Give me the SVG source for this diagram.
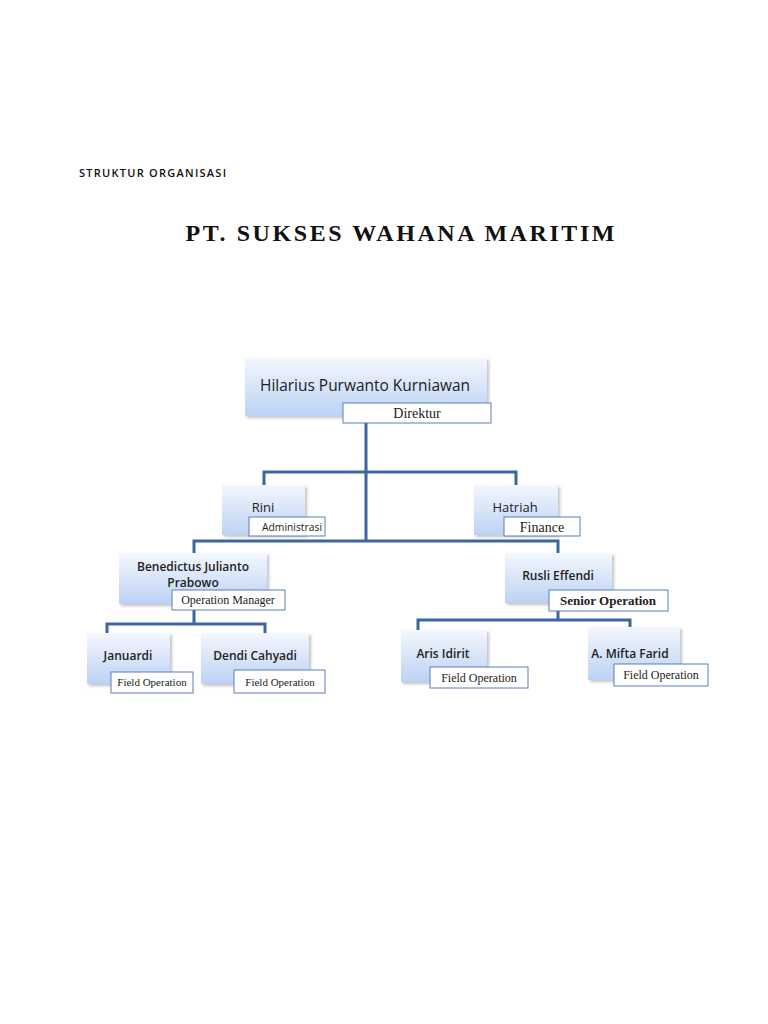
<svg xmlns="http://www.w3.org/2000/svg" width="768" height="1024" viewBox="0 0 768 1024">
<defs>
<linearGradient id="g" x1="0" y1="0" x2="0" y2="1"><stop offset="0" stop-color="#f4f7fd"/><stop offset="1" stop-color="#bcd2f4"/></linearGradient>
<filter id="sh" x="-10%" y="-10%" width="125%" height="130%"><feDropShadow dx="2" dy="2" stdDeviation="1.5" flood-color="#999" flood-opacity="0.6"/></filter>
</defs>
<style>
.n{fill:url(#g);filter:url(#sh)}
.l{fill:#fff;stroke:#5a7fb5;stroke-width:1}
.c{fill:none;stroke:#3c66a2;stroke-width:3}
.t{font-family:"Open Sans","Liberation Sans",sans-serif;font-weight:600;fill:#222;text-anchor:middle}
.r{font-weight:400}
.s{font-family:"Liberation Serif",serif;fill:#222;text-anchor:middle}
</style>
<rect width="768" height="1024" fill="#fff"/>
<text x="79" y="177" font-family="Open Sans,Liberation Sans,sans-serif" font-weight="600" font-size="11" fill="#111" textLength="147">STRUKTUR ORGANISASI</text>
<text x="400" y="241" font-family="Liberation Serif,serif" font-weight="bold" font-size="24" text-anchor="middle" fill="#111" textLength="429">PT. SUKSES WAHANA MARITIM</text>
<g id="connectors">
<path class="c" d="M366 423V541M264 485V472H516V485M194 553V541H558V553"/>
<path class="c" d="M194 610V624M107 633V624H265V633"/>
<path class="c" d="M558 611V620M418 630V620H630V627"/>
</g>
<g id="hilarius"><rect class="n" x="245" y="358" width="242" height="58"/><text class="t r" x="365" y="391" font-size="17" textLength="210" lengthAdjust="spacingAndGlyphs">Hilarius Purwanto Kurniawan</text><rect class="l" x="343" y="403" width="148" height="20"/><text class="s" x="417" y="418" font-size="14">Direktur</text></g>
<g id="rini"><rect class="n" x="222" y="485" width="83" height="50"/><text class="t r" x="263" y="512" font-size="13">Rini</text><rect class="l" x="249" y="517" width="76" height="19"/><text class="t r" x="292" y="531" font-size="11" textLength="60" lengthAdjust="spacingAndGlyphs">Administrasi</text></g>
<g id="hatriah"><rect class="n" x="474" y="485" width="84" height="50"/><text class="t r" x="515" y="512" font-size="13">Hatriah</text><rect class="l" x="504" y="517" width="76" height="19"/><text class="s" x="542" y="532" font-size="14">Finance</text></g>
<g id="benedictus"><rect class="n" x="119" y="553" width="148" height="51"/><text class="t" x="193" y="571" font-size="12">Benedictus Julianto</text><text class="t" x="193" y="587" font-size="12">Prabowo</text><rect class="l" x="172" y="590" width="113" height="20"/><text class="s" x="228" y="604" font-size="12">Operation Manager</text></g>
<g id="rusli"><rect class="n" x="505" y="553" width="107" height="50"/><text class="t" x="558" y="580" font-size="12">Rusli Effendi</text><rect class="l" x="549" y="590" width="119" height="21"/><text class="s" x="608" y="605" font-size="13" font-weight="bold">Senior Operation</text></g>
<g id="januardi"><rect class="n" x="87" y="633" width="83" height="51"/><text class="t" x="128" y="660" font-size="12">Januardi</text><rect class="l" x="111" y="672" width="82" height="21"/><text class="s" x="152" y="686" font-size="11">Field Operation</text></g>
<g id="dendi"><rect class="n" x="201" y="633" width="108" height="51"/><text class="t" x="255" y="660" font-size="12">Dendi Cahyadi</text><rect class="l" x="234" y="670" width="91" height="23"/><text class="s" x="280" y="686" font-size="11">Field Operation</text></g>
<g id="aris"><rect class="n" x="401" y="630" width="86" height="52"/><text class="t" x="443" y="658" font-size="12">Aris Idirit</text><rect class="l" x="430" y="667" width="98" height="21"/><text class="s" x="479" y="682" font-size="12">Field Operation</text></g>
<g id="mifta"><rect class="n" x="588" y="627" width="92" height="53"/><text class="t" x="630" y="658" font-size="12">A. Mifta Farid</text><rect class="l" x="614" y="664" width="94" height="22"/><text class="s" x="661" y="679" font-size="12">Field Operation</text></g>
</svg>
